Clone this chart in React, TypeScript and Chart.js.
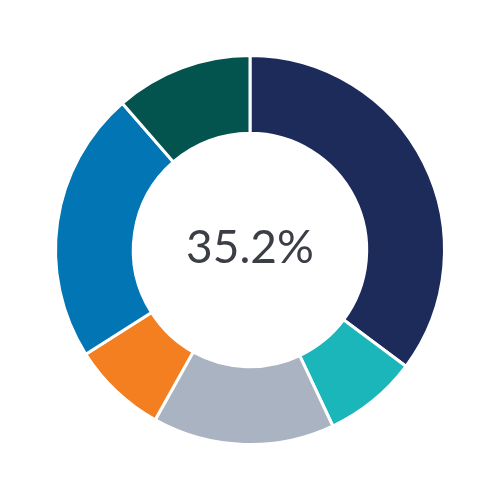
import { useEffect, useRef } from "react";
import { Chart, registerables, type Plugin } from "chart.js";

Chart.register(...registerables);

const CATEGORIES = ["A", "B", "C", "D", "E", "F"];
const VALUES = [35.2, 7.8, 15.1, 7.9, 22.6, 11.4];
const COLORS = ["#1c2b5a", "#1bb6b9", "#a9b3c1", "#f37f21", "#0275b4", "#03534f"];
const CENTER_LABEL = "35.2%";

// Draws the headline figure in the donut hole.
const centerText: Plugin<"doughnut"> = {
  id: "centerText",
  afterDraw(chart) {
    const { ctx, chartArea } = chart;
    const x = (chartArea.left + chartArea.right) / 2;
    const y = (chartArea.top + chartArea.bottom) / 2;
    ctx.save();
    ctx.font = "400 46px Lato";
    ctx.fillStyle = "#3b3e45";
    ctx.textAlign = "center";
    ctx.textBaseline = "middle";
    ctx.fillText(CENTER_LABEL, x, y - 2);
    ctx.restore();
  },
};

export default function App() {
  const canvasRef = useRef<HTMLCanvasElement>(null);
  useEffect(() => {
    document.body.style.margin = "0";
    const canvas = canvasRef.current;
    if (!canvas) return;
    const chart = new Chart(canvas, {
      type: "doughnut",
      data: {
        labels: CATEGORIES,
        datasets: [
          {
            data: VALUES,
            backgroundColor: COLORS,
            borderColor: "#ffffff",
            borderWidth: 3,
          },
        ],
      },
      options: {
        animation: false,
        responsive: true,
        maintainAspectRatio: false,
        cutout: "60%",
        layout: { padding: 54 },
        plugins: { legend: { display: false }, tooltip: { enabled: false } },
      },
      plugins: [centerText],
    });
    return () => chart.destroy();
  }, []);
  return (
    <div style={{ width: 500, height: 500, position: "relative" }}>
      <canvas ref={canvasRef} />
    </div>
  );
}
